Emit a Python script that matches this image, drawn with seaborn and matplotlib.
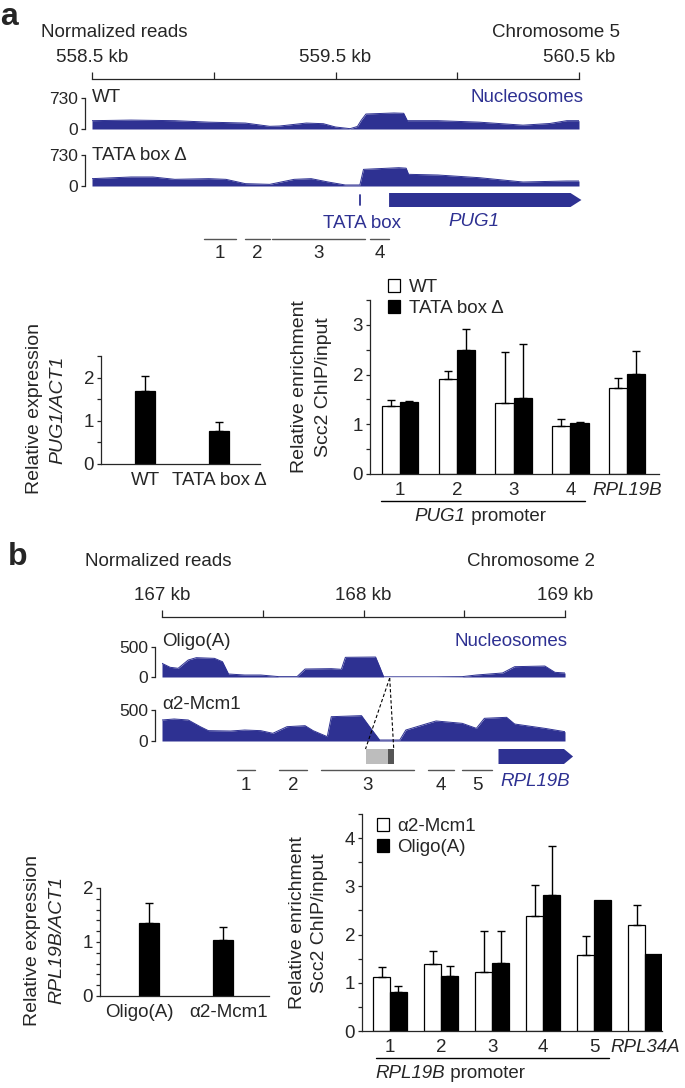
import matplotlib
matplotlib.use('Agg')
import numpy as np
import pandas as pd
import matplotlib.pyplot as plt
import matplotlib.transforms as mtransforms
from matplotlib.patches import Polygon, Rectangle, Patch
from matplotlib.ticker import MultipleLocator
import seaborn as sns

# ---------------- data ----------------
# panel a, nucleosome tracks (position in kb, normalized reads)
a_wt_kb = [558.50, 558.66, 558.84, 558.98, 559.13, 559.23, 559.27, 559.38, 559.45, 559.50,
           559.56, 559.59, 559.605, 559.625, 559.74, 559.78, 559.795, 559.92, 560.09, 560.27,
           560.38, 560.45, 560.50]
a_wt = [196, 210, 196, 161, 140, 63, 70, 140, 125, 47,
        8, 60, 200, 353, 377, 370, 196, 196, 161, 90,
        130, 196, 196]
a_tata_kb = [558.50, 558.66, 558.75, 558.84, 558.98, 559.05, 559.13, 559.23, 559.33, 559.40,
             559.47, 559.54, 559.60, 559.615, 559.76, 559.79, 559.80, 559.92, 560.09, 560.27,
             560.45, 560.50]
a_tata = [173, 212, 212, 157, 173, 157, 55, 39, 157, 173,
          94, 24, 24, 392, 431, 420, 275, 259, 196, 94,
          118, 118]
a_ticks = [558.5, 559.0, 559.5, 560.0, 560.5]
a_tick_labels = ['558.5 kb', '', '559.5 kb', '', '560.5 kb']
a_tata_site = 559.60
a_gene = [559.72, 560.51]
a_segments = [[558.96, 559.09], [559.13, 559.23], [559.24, 559.62], [559.64, 559.72]]
a_seg_labels = ['1', '2', '3', '4']

# panel a, expression
a_expr_cats = ['WT', 'TATA box Δ']
a_expr_vals = [1.68, 0.77]
a_expr_err = [0.36, 0.20]

# panel a, Scc2 ChIP
a_chip_cats = ['1', '2', '3', '4', 'RPL19B']
a_chip_hue = ['WT', 'TATA box Δ']
a_chip_wt = [1.36, 1.91, 1.43, 0.96, 1.73]
a_chip_wt_err = [0.12, 0.16, 1.02, 0.14, 0.21]
a_chip_tata = [1.45, 2.49, 1.52, 1.02, 2.02]
a_chip_tata_err = [0.02, 0.43, 1.09, 0.03, 0.45]

# panel b, nucleosome tracks
b_ol_kb = [167.00, 167.04, 167.08, 167.13, 167.17, 167.26, 167.30, 167.33, 167.41, 167.49,
           167.58, 167.67, 167.71, 167.84, 167.89, 167.91, 168.06, 168.08, 168.10, 168.36,
           168.49, 168.56, 168.69, 168.75, 168.90, 168.95, 169.00]
b_ol = [228, 162, 145, 283, 322, 311, 255, 50, 33, 33,
        6, 6, 133, 139, 128, 328, 333, 172, 3, 3,
        6, 33, 67, 172, 183, 78, 67]
b_al_kb = [167.00, 167.06, 167.13, 167.19, 167.23, 167.34, 167.41, 167.49, 167.55, 167.62,
           167.71, 167.75, 167.82, 167.84, 167.99, 168.03, 168.08, 168.18, 168.21, 168.32,
           168.36, 168.49, 168.56, 168.60, 168.71, 168.75, 168.90, 169.00]
b_al = [339, 355, 339, 231, 167, 161, 177, 167, 124, 231,
        247, 167, 70, 392, 409, 231, 16, 16, 177, 285,
        323, 285, 204, 366, 382, 274, 204, 150]
b_ticks = [167.0, 167.5, 168.0, 168.5, 169.0]
b_tick_labels = ['167 kb', '', '168 kb', '', '169 kb']
b_site_light = [168.01, 168.12]
b_site_dark = [168.12, 168.15]
b_gene = [168.67, 169.04]
b_segments = [[167.37, 167.46], [167.58, 167.72], [167.79, 168.25], [168.32, 168.45], [168.49, 168.64]]
b_seg_labels = ['1', '2', '3', '4', '5']

# panel b, expression
b_expr_cats = ['Oligo(A)', 'α2-Mcm1']
b_expr_vals = [1.36, 1.04]
b_expr_err = [0.37, 0.24]

# panel b, Scc2 ChIP
b_chip_cats = ['1', '2', '3', '4', '5', 'RPL34A']
b_chip_hue = ['α2-Mcm1', 'Oligo(A)']
b_chip_al = [1.12, 1.39, 1.23, 2.39, 1.57, 2.19]
b_chip_al_err = [0.21, 0.27, 0.85, 0.64, 0.40, 0.43]
b_chip_ol = [0.81, 1.14, 1.41, 2.83, 2.71, 1.59]
b_chip_ol_err = [0.12, 0.21, 0.67, 1.01, np.nan, np.nan]

# ---------------- style ----------------
sns.set_theme(style='ticks')
plt.rcParams['font.family'] = ['Liberation Sans', 'DejaVu Sans']
plt.rcParams['axes.linewidth'] = 0.9
plt.rcParams['xtick.major.width'] = 0.9
plt.rcParams['ytick.major.width'] = 0.9
plt.rcParams['ytick.minor.width'] = 0.9

BLUE = '#2E3192'
FS = 13.5
W, H = 685, 1088

fig = plt.figure(figsize=(W / 100, H / 100), dpi=100)


def box(x0, y0, x1, y1):
    return [x0 / W, 1 - y1 / H, (x1 - x0) / W, (y1 - y0) / H]


def fy(py):
    return 1 - py / H


def fx(px):
    return px / W


def ruler(rect, lim, ticks, labels):
    ax = fig.add_axes(rect)
    ax.set_xlim(lim)
    ax.set_ylim(0, 1)
    for s in ['left', 'right', 'top']:
        ax.spines[s].set_visible(False)
    ax.set_yticks([])
    ax.set_xticks(ticks, labels=labels)
    ax.tick_params(axis='x', bottom=True, top=False, labelbottom=False, labeltop=True,
                   direction='in', length=5, pad=3, labelsize=FS)
    ax.patch.set_alpha(0)
    return ax


def track(rect, lim, kb, vals, top):
    ax = fig.add_axes(rect)
    ax.fill_between(kb, vals, 0, color=BLUE, lw=0)
    sns.lineplot(x=kb, y=vals, color=BLUE, lw=0.7, ax=ax)
    ax.set_xlim(lim)
    ax.set_ylim(0, top)
    for s in ['right', 'top', 'bottom']:
        ax.spines[s].set_visible(False)
    ax.spines['left'].set_position(('outward', 5))
    ax.set_xticks([])
    ax.set_yticks([0, top], labels=['0', str(top)])
    ax.tick_params(axis='y', direction='out', length=3, pad=2, labelsize=FS - 1)
    ax.set_xlabel('')
    ax.set_ylabel('')
    ax.patch.set_alpha(0)
    return ax


def style_bars(ax, xlim, ylim, minor):
    ax.set_xlim(xlim)
    ax.set_ylim(ylim)
    ax.yaxis.set_major_locator(MultipleLocator(1))
    ax.yaxis.set_minor_locator(MultipleLocator(minor))
    sns.despine(ax=ax)
    ax.tick_params(axis='x', length=0, pad=6, labelsize=FS)
    ax.tick_params(axis='y', which='both', direction='out', length=3, pad=2, labelsize=FS)
    ax.set_xlabel('')
    ax.set_ylabel('')
    ax.patch.set_alpha(0)


def bars_single(rect, cats, vals, errs, xlim, ylim, width, minor):
    ax = fig.add_axes(rect)
    sns.barplot(x=cats, y=vals, color='black', saturation=1, width=width,
                edgecolor='black', linewidth=0.9, errorbar=None, ax=ax)
    for bar in ax.patches:
        xc = bar.get_x() + bar.get_width() / 2
        i = int(round(xc))
        ax.errorbar(xc, bar.get_height(), yerr=[[0], [errs[i]]],
                    fmt='none', ecolor='black', elinewidth=1, capsize=3, capthick=1, zorder=1)
    style_bars(ax, xlim, ylim, minor)
    return ax


def bars_grouped(rect, cats, hues, v1, e1, v2, e2, xlim, ylim, width):
    df = pd.DataFrame({'group': cats * 2,
                       'cond': [hues[0]] * len(cats) + [hues[1]] * len(cats),
                       'value': v1 + v2})
    errs = {hues[0]: e1, hues[1]: e2}
    ax = fig.add_axes(rect)
    sns.barplot(data=df, x='group', y='value', hue='cond', order=cats, hue_order=hues,
                palette={hues[0]: 'white', hues[1]: 'black'}, saturation=1, width=width,
                edgecolor='black', linewidth=0.9, errorbar=None, legend=False, ax=ax)
    for bar in ax.patches:
        xc = bar.get_x() + bar.get_width() / 2
        i = int(round(xc))
        h = hues[0] if bar.get_facecolor()[0] > 0.5 else hues[1]
        e = errs[h][i]
        if not np.isnan(e):
            ax.errorbar(xc, bar.get_height(), yerr=[[0], [e]], fmt='none', ecolor='black',
                        elinewidth=1, capsize=3, capthick=1, zorder=1)
    style_bars(ax, xlim, ylim, 0.5)
    ax.legend(handles=[Patch(facecolor='white', edgecolor='black', lw=0.9, label=hues[0]),
                       Patch(facecolor='black', edgecolor='black', lw=0.9, label=hues[1])],
              loc='upper left', frameon=False, fontsize=FS, borderpad=0, borderaxespad=0,
              handlelength=0.65, handleheight=0.7, handletextpad=0.45, labelspacing=0.2,
              bbox_transform=fig.transFigure)
    return ax


def mixed_label(ax, tr, x, py, italic_part, rest):
    # italic gene name followed by plain text
    t1 = ax.text(x, fy(py), italic_part, ha='left', va='center', fontsize=FS,
                 fontstyle='italic', transform=tr)
    ax.annotate(rest, xy=(1, 0), xycoords=t1, ha='left', va='bottom', fontsize=FS)


def annotate_row(ax, site_draw, gene, segs, seg_labels, y_gene, y_seg, y_lab):
    tr = mtransforms.blended_transform_factory(ax.transData, fig.transFigure)
    site_draw(tr)
    top, bot = fy(y_gene[0]), fy(y_gene[1])
    tip = 0.045 * (ax.get_xlim()[1] - ax.get_xlim()[0]) / 2
    poly = Polygon([(gene[0], top), (gene[1] - tip, top), (gene[1], (top + bot) / 2),
                    (gene[1] - tip, bot), (gene[0], bot)], closed=True,
                   facecolor=BLUE, edgecolor='none', transform=tr, clip_on=False)
    ax.add_patch(poly)
    for (s, e), lab in zip(segs, seg_labels):
        ax.plot([s, e], [fy(y_seg), fy(y_seg)], color='#555555', lw=1, transform=tr, clip_on=False)
        ax.text((s + e) / 2, fy(y_lab), lab, ha='center', va='center', fontsize=FS, transform=tr)
    return tr


# ---------------- panel a ----------------
a_lim = (558.5, 560.5)
fig.text(fx(0), fy(25), 'a', fontsize=23, fontweight='bold', va='baseline')
fig.text(fx(41), fy(37), 'Normalized reads', fontsize=FS, va='baseline')
fig.text(fx(620), fy(37), 'Chromosome 5', fontsize=FS, va='baseline', ha='right')

ruler(box(92, 70, 579, 79), a_lim, a_ticks, a_tick_labels)
ax_wt = track(box(92, 98, 579, 129), a_lim, a_wt_kb, a_wt, 730)
ax_wt.text(558.5, 730, 'WT', ha='left', va='center', fontsize=FS)
ax_wt.text(560.52, 730, 'Nucleosomes', ha='right', va='center', fontsize=FS, color=BLUE)
ax_ta = track(box(92, 155, 579, 186), a_lim, a_tata_kb, a_tata, 730)
ax_ta.text(558.5, 730, 'TATA box Δ', ha='left', va='center', fontsize=FS)


def draw_tata(tr):
    ax_ta.plot([a_tata_site, a_tata_site], [fy(195), fy(205)], color=BLUE, lw=1.3,
               transform=tr, clip_on=False)


tr_a = annotate_row(ax_ta, draw_tata, a_gene, a_segments, a_seg_labels, (193, 207), 239, 253)
ax_ta.text(a_tata_site + 0.01, fy(224), 'TATA box', ha='center', va='center', fontsize=FS,
           color=BLUE, transform=tr_a)
ax_ta.text(560.07, fy(221), 'PUG1', ha='center', va='center', fontsize=FS, color=BLUE,
           fontstyle='italic', transform=tr_a)

# expression a
bars_single(box(101, 356, 260, 464), a_expr_cats, a_expr_vals, a_expr_err,
            (-0.595, 1.554), (0, 2.5), 0.28, 0.5)
fig.text(fx(35), fy(408), 'Relative expression', rotation=90, ha='center', va='center', fontsize=FS + 0.5)
fig.text(fx(58), fy(410), 'PUG1/ACT1', rotation=90, ha='center', va='center', fontsize=FS + 0.5,
         fontstyle='italic')

# ChIP a
ax_ac = bars_grouped(box(370, 300, 659, 474), a_chip_cats, a_chip_hue, a_chip_wt, a_chip_wt_err,
                     a_chip_tata, a_chip_tata_err, (-0.53, 4.56), (0, 3.5), 0.64)
ax_ac.get_legend().set_bbox_to_anchor((fx(388), fy(279)), transform=fig.transFigure)
ax_ac.get_xticklabels()[-1].set_fontstyle('italic')
tr_ac = mtransforms.blended_transform_factory(ax_ac.transData, fig.transFigure)
ax_ac.plot([-0.33, 3.26], [fy(501), fy(501)], color='black', lw=1, transform=tr_ac, clip_on=False)
mixed_label(ax_ac, tr_ac, 0.26, 517, 'PUG1', ' promoter')
fig.text(fx(299), fy(387), 'Relative enrichment', rotation=90, ha='center', va='center', fontsize=FS + 0.5)
fig.text(fx(323), fy(387), 'Scc2 ChIP/input', rotation=90, ha='center', va='center', fontsize=FS + 0.5)

# ---------------- panel b ----------------
b_lim = (167.0, 169.0)
fig.text(fx(8), fy(565), 'b', fontsize=23, fontweight='bold', va='baseline')
fig.text(fx(85), fy(566), 'Normalized reads', fontsize=FS, va='baseline')
fig.text(fx(595), fy(566), 'Chromosome 2', fontsize=FS, va='baseline', ha='right')

ruler(box(162, 608, 565, 617), b_lim, b_ticks, b_tick_labels)
ax_ol = track(box(162, 647, 565, 677), b_lim, b_ol_kb, b_ol, 500)
ax_ol.text(167.0, 520, 'Oligo(A)', ha='left', va='baseline', fontsize=FS)
ax_ol.text(169.01, 520, 'Nucleosomes', ha='right', va='baseline', fontsize=FS, color=BLUE)
ax_al = track(box(162, 710, 565, 741), b_lim, b_al_kb, b_al, 500)
ax_al.text(167.0, 520, 'α2-Mcm1', ha='left', va='baseline', fontsize=FS)


def draw_site(tr):
    ax_al.add_patch(Rectangle((b_site_light[0], fy(764)), b_site_light[1] - b_site_light[0],
                              fy(749) - fy(764), facecolor='#bdbdbd', edgecolor='none',
                              transform=tr, clip_on=False))
    ax_al.add_patch(Rectangle((b_site_dark[0], fy(764)), b_site_dark[1] - b_site_dark[0],
                              fy(749) - fy(764), facecolor='#555555', edgecolor='none',
                              transform=tr, clip_on=False))
    # zoom lines from the deleted region in the Oligo(A) track
    x_top = 168.13
    for xb in [b_site_light[0], b_site_dark[1]]:
        ax_al.plot([x_top, xb], [fy(678), fy(749)], color='black', lw=0.8, ls=(0, (3, 2)),
                   transform=tr, clip_on=False)


tr_b = annotate_row(ax_al, draw_site, b_gene, b_segments, b_seg_labels, (749, 764), 770, 785)
ax_al.text(168.85, fy(782), 'RPL19B', ha='center', va='center', fontsize=FS, color=BLUE,
           fontstyle='italic', transform=tr_b)

# expression b
ax_be = bars_single(box(100, 888, 269, 996), b_expr_cats, b_expr_vals, b_expr_err,
                    (-0.66, 1.62), (0, 2), 0.27, 0.2)
for lab, dx in zip(ax_be.get_xticklabels(), [-10, 6]):
    lab.set_transform(lab.get_transform() + mtransforms.ScaledTranslation(dx / 100, 0, fig.dpi_scale_trans))
fig.text(fx(33), fy(940), 'Relative expression', rotation=90, ha='center', va='center', fontsize=FS + 0.5)
fig.text(fx(57), fy(940), 'RPL19B/ACT1', rotation=90, ha='center', va='center', fontsize=FS + 0.5,
         fontstyle='italic')

# ChIP b
ax_bc = bars_grouped(box(362, 814, 662, 1031), b_chip_cats, b_chip_hue, b_chip_al, b_chip_al_err,
                     b_chip_ol, b_chip_ol_err, (-0.55, 5.33), (0, 4.5), 0.66)
ax_bc.get_legend().set_bbox_to_anchor((fx(377), fy(818)), transform=fig.transFigure)
ax_bc.get_xticklabels()[-1].set_fontstyle('italic')
tr_bc = mtransforms.blended_transform_factory(ax_bc.transData, fig.transFigure)
ax_bc.plot([-0.27, 4.29], [fy(1058), fy(1058)], color='black', lw=1, transform=tr_bc, clip_on=False)
mixed_label(ax_bc, tr_bc, -0.29, 1074, 'RPL19B', ' promoter')
fig.text(fx(297), fy(923), 'Relative enrichment', rotation=90, ha='center', va='center', fontsize=FS + 0.5)
fig.text(fx(319), fy(923), 'Scc2 ChIP/input', rotation=90, ha='center', va='center', fontsize=FS + 0.5)

fig.savefig('out.png', dpi=100)
